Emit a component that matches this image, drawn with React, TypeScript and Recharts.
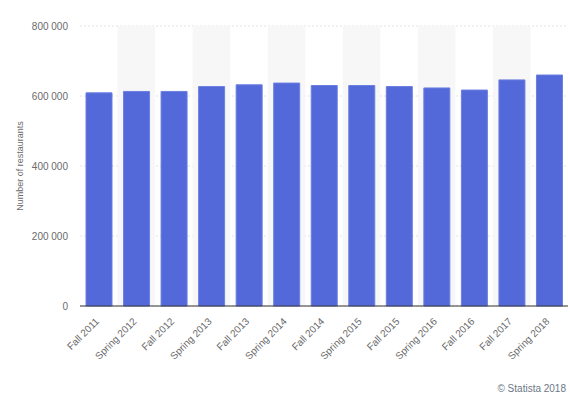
import { BarChart, Bar, XAxis, YAxis, CartesianGrid, ReferenceArea } from "recharts";

// survey waves and restaurant counts
const periods = [
  "Fall 2011",
  "Spring 2012",
  "Fall 2012",
  "Spring 2013",
  "Fall 2013",
  "Spring 2014",
  "Fall 2014",
  "Spring 2015",
  "Fall 2015",
  "Spring 2016",
  "Fall 2016",
  "Fall 2017",
  "Spring 2018",
];
const restaurants = [
  609000, 613000, 613000, 627000, 632000, 637000, 630000, 630000, 627000, 623000, 617000, 646000, 660000,
];
const yTicks = [0, 200000, 400000, 600000, 800000];

const data = periods.map((name, i) => ({ name, value: restaurants[i] }));
// every second column gets the light grey band
const shaded = periods.filter((_, i) => i % 2 === 1);

const fmt = (v: number) => (v === 0 ? "0" : v.toLocaleString("en-US").replace(/,/g, " "));

const XTick = ({ x, y, payload }: any) => (
  <text
    x={x + 1}
    y={y + 8}
    transform={`rotate(-45, ${x + 1}, ${y + 8})`}
    textAnchor="end"
    fontSize={10}
    fill="#6a6a6a"
    fontFamily="'Liberation Sans', Arial, sans-serif"
  >
    {payload.value}
  </text>
);

export default function App() {
  return (
    <div style={{ position: "absolute", left: 0, top: 0, width: 570, height: 398, background: "#fff" }}>
      <BarChart width={570} height={398} data={data} margin={{ top: 26, right: 2, left: 0, bottom: 22 }}>
        {shaded.map((p) => (
          <ReferenceArea key={p} x1={p} x2={p} fill="#f7f7f7" fillOpacity={1} stroke="none" ifOverflow="visible" />
        ))}
        <CartesianGrid vertical={false} stroke="#e2e2e2" strokeDasharray="2 2" />
        <XAxis
          dataKey="name"
          interval={0}
          height={70}
          tick={<XTick />}
          tickLine={false}
          axisLine={{ stroke: "#333", strokeWidth: 1 }}
        />
        <YAxis
          width={80}
          domain={[0, 800000]}
          ticks={yTicks}
          tickFormatter={fmt}
          axisLine={false}
          tickLine={false}
          tickSize={0}
          tickMargin={12}
          tick={{ fontSize: 10, fill: "#6a6a6a", fontFamily: "'Liberation Sans', Arial, sans-serif" }}
          label={{
            value: "Number of restaurants",
            angle: -90,
            position: "insideLeft",
            offset: 20,
            style: { fontSize: 9, fill: "#6a6a6a", textAnchor: "middle", fontFamily: "'Liberation Sans', Arial, sans-serif" },
          }}
        />
        <Bar dataKey="value" fill="#5369d9" stroke="#6b7fe0" strokeWidth={1} barSize={26} isAnimationActive={false} />
        <text
          x={566}
          y={392}
          textAnchor="end"
          fontSize={10}
          fill="#6b7785"
          fontFamily="'Liberation Sans', Arial, sans-serif"
        >
          © Statista 2018
        </text>
      </BarChart>
    </div>
  );
}
